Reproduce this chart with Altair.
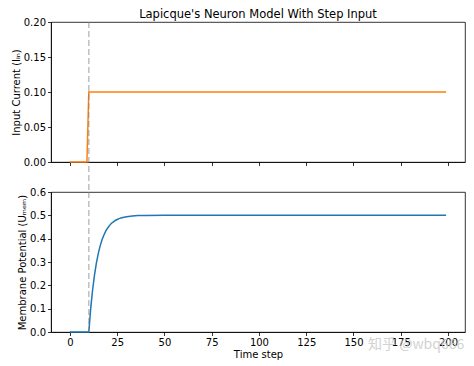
import altair as alt
import pandas as pd

# Input current (step at t=10)
time_cur = [0, 9, 10, 199]
cur_vals = [0.0, 0.0, 0.1, 0.1]

# Membrane potential
time_mem = [0, 10, 11, 12, 13, 14, 15, 16, 17, 18, 19, 20, 21, 22, 23, 24, 25,
            26, 27, 28, 30, 33, 36, 40, 50, 199]
mem_vals = [0.0, 0.0, 0.10, 0.18, 0.244, 0.295, 0.336, 0.369, 0.395, 0.416,
            0.433, 0.446, 0.457, 0.466, 0.472, 0.478, 0.482, 0.486, 0.489,
            0.491, 0.494, 0.497, 0.499, 0.4995, 0.5, 0.5]

x_ticks = [0, 25, 50, 75, 100, 125, 150, 175, 200]
top_ticks = [0.0, 0.05, 0.10, 0.15, 0.20]
bot_ticks = [0.0, 0.1, 0.2, 0.3, 0.4, 0.5, 0.6]
step_time = [10]

W, H, GAP = 414, 140, 30

df_cur = pd.DataFrame({"t": time_cur, "v": cur_vals})
df_mem = pd.DataFrame({"t": time_mem, "v": mem_vals})
df_step = pd.DataFrame({"t": step_time})

xscale = alt.Scale(domain=[-10, 209], nice=False, zero=False)

top_line = alt.Chart(df_cur).mark_line(color="#ff7f0e", strokeWidth=1.5).encode(
    x=alt.X("t:Q", scale=xscale,
            axis=alt.Axis(values=x_ticks, labels=False, title=None)),
    y=alt.Y("v:Q", scale=alt.Scale(domain=[0, 0.2], nice=False),
            axis=alt.Axis(values=top_ticks, format=".2f",
                          title="Input Current (Iᵢₙ)")),
)
top_rule = alt.Chart(df_step).mark_rule(
    color="gray", opacity=0.5, strokeWidth=1.5, strokeDash=[6, 3]
).encode(x=alt.X("t:Q", scale=xscale), y=alt.value(0), y2=alt.value(H + GAP))

top = alt.layer(top_line, top_rule).properties(
    width=W, height=H,
    title=alt.TitleParams("Lapicque's Neuron Model With Step Input",
                          fontSize=11.5, fontWeight="normal", anchor="middle",
                          font="DejaVu Sans", offset=-3),
)

bot_line = alt.Chart(df_mem).mark_line(color="#1f77b4", strokeWidth=1.5).encode(
    x=alt.X("t:Q", scale=xscale,
            axis=alt.Axis(values=x_ticks, title="Time step")),
    y=alt.Y("v:Q", scale=alt.Scale(domain=[0, 0.6], nice=False),
            axis=alt.Axis(values=bot_ticks, format=".1f",
                          title="Membrane Potential (Uₘₑₘ)")),
)
bot_rule = alt.Chart(df_step).mark_rule(
    color="gray", opacity=0.5, strokeWidth=1.5, strokeDash=[6, 3]
).encode(x=alt.X("t:Q", scale=xscale), y=alt.value(0), y2=alt.value(H))

watermark = alt.Chart(pd.DataFrame({"w": ["知乎 @wbq666"]})).mark_text(
    font="Noto Sans CJK SC", fontSize=14, color="#c8c8c8", opacity=0.8,
    align="left", baseline="middle"
).encode(text="w:N", x=alt.value(317), y=alt.value(153))

bottom = alt.layer(bot_line, bot_rule, watermark).properties(width=W, height=H)

chart = alt.vconcat(top, bottom, spacing=GAP, bounds="flush").properties(
    padding={"left": 2, "top": 0, "right": 0, "bottom": 0}
).configure_view(
    stroke="black", strokeWidth=0.8
).configure_axis(
    grid=False, labelFontSize=10, titleFontSize=10, labelFont="DejaVu Sans",
    titleFont="DejaVu Sans", titleFontWeight="normal", labelColor="black",
    titleColor="black", tickColor="black", domainColor="black",
    tickSize=3.5, labelPadding=2, titlePadding=2, domainWidth=0.8, tickWidth=0.8
)

chart.save("out.html", embed_options={"renderer": "svg", "actions": False})
